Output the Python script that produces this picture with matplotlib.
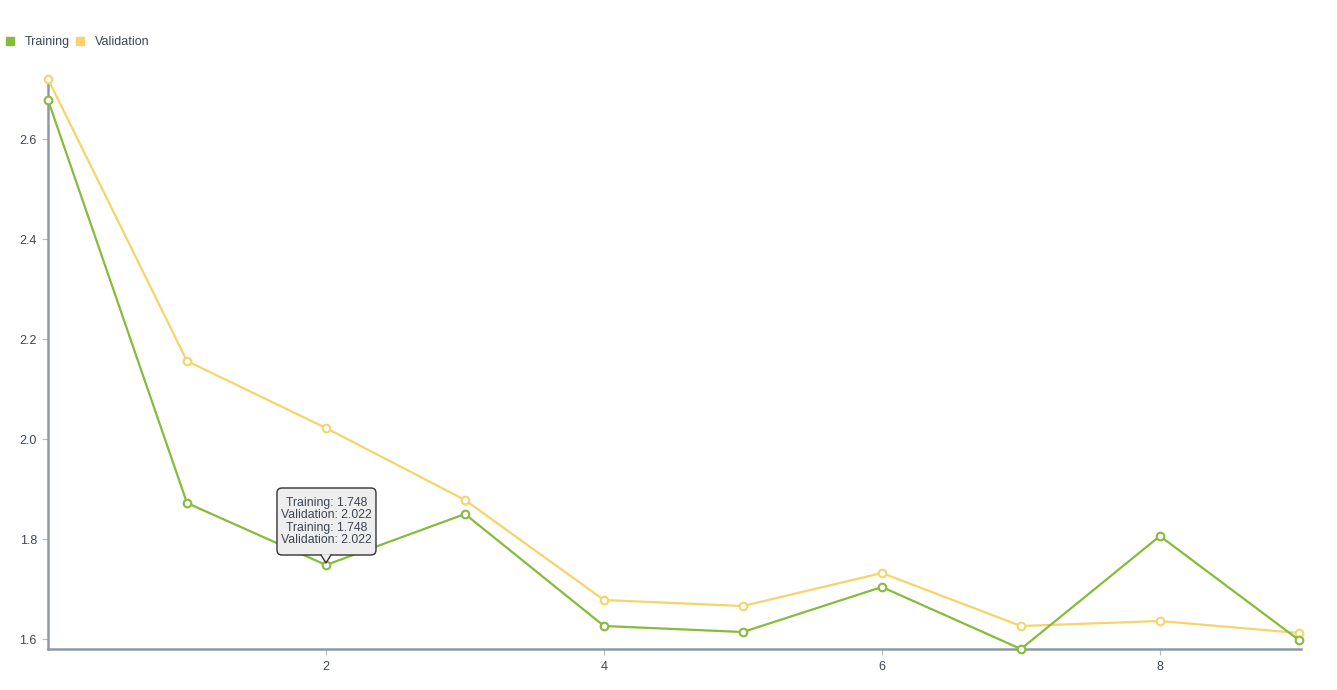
import matplotlib
matplotlib.use("Agg")
import matplotlib.pyplot as plt
from matplotlib.patches import FancyBboxPatch, Polygon
from matplotlib.lines import Line2D

plt.rcParams["font.family"] = ["Liberation Sans", "DejaVu Sans"]

epochs = [0, 1, 2, 3, 4, 5, 6, 7, 8, 9]
training = [2.678, 1.872, 1.748, 1.850, 1.626, 1.614, 1.704, 1.580, 1.806, 1.598]
validation = [2.720, 2.156, 2.022, 1.878, 1.678, 1.666, 1.732, 1.626, 1.636, 1.612]
series_names = ["Training", "Validation"]
xticks = [2, 4, 6, 8]
yticks = [1.6, 1.8, 2.0, 2.2, 2.4, 2.6]
tooltip_index = 2

green = "#86bb3c"
yellow = "#f6d46a"
axis_col = "#8e99a4"
text_col = "#3d4652"

fig = plt.figure(figsize=(13.37, 6.90), dpi=100)
W, H = 1337, 690
ax = fig.add_axes([48 / W, (690 - 649) / H, (1301 - 48) / W, (649 - 79) / H])

ax.plot(epochs, validation, color=yellow, lw=1.6, marker="o", ms=5.5,
        mfc="white", mec=yellow, mew=1.5, zorder=3, clip_on=False)
ax.plot(epochs, training, color=green, lw=1.6, marker="o", ms=5.5,
        mfc="white", mec=green, mew=1.5, zorder=4, clip_on=False)

ax.set_xlim(0, 9.015)
ax.set_ylim(1.58, 2.72)
for s in ["top", "right"]:
    ax.spines[s].set_visible(False)
for s in ["left", "bottom"]:
    ax.spines[s].set_color(axis_col)
    ax.spines[s].set_linewidth(1.8)
ax.set_xticks(xticks)
ax.set_xticklabels([str(t) for t in xticks])
ax.set_yticks(yticks)
ax.set_yticklabels([f"{t:.1f}" for t in yticks])
ax.tick_params(axis="both", colors="#b5bcc4", labelcolor=text_col, labelsize=9,
               length=4, width=0.8)
ax.tick_params(axis="x", pad=5)
ax.tick_params(axis="y", pad=4)

# legend
handles = [Line2D([], [], ls="none", marker="s", ms=6, mfc=c, mec=c) for c in (green, yellow)]
fig.legend(handles, series_names, loc="upper left", bbox_to_anchor=(5 / W, 1 - 36 / H),
           ncol=2, frameon=False, fontsize=9, handletextpad=0.8, columnspacing=0.35,
           handlelength=0.8, labelcolor=text_col, borderaxespad=0, borderpad=0)

# tooltip
tx = epochs[tooltip_index]
ty = training[tooltip_index]
xd, yd = ax.transData.transform((tx, ty))
bw, bh = 99, 67
bx0 = xd - bw / 2 + 0.5
by0 = yd + 10
box = FancyBboxPatch((bx0, by0), bw, bh, boxstyle="round,pad=0,rounding_size=5",
                     transform=None, fc="#eeeeee", ec="#333333", lw=1.0, zorder=10)
fig.patches.append(box)
tri = Polygon([(xd - 5, by0 + 0.8), (xd + 5, by0 + 0.8), (xd, by0 - 8)], closed=True,
              transform=None, fc="#eeeeee", ec="none", zorder=11)
fig.patches.append(tri)
fig.lines.append(Line2D([xd - 5, xd, xd + 5], [by0, by0 - 8, by0], transform=None,
                        color="#333333", lw=1.0, zorder=12))
tip = (f"{series_names[0]}: {training[tooltip_index]:.3f}\n"
       f"{series_names[1]}: {validation[tooltip_index]:.3f}\n"
       f"{series_names[0]}: {training[tooltip_index]:.3f}\n"
       f"{series_names[1]}: {validation[tooltip_index]:.3f}")
fig.text((bx0 + bw / 2) / W, (by0 + bh / 2) / H, tip, ha="center", va="center",
         fontsize=8.8, color=text_col, linespacing=1.02, zorder=13)

fig.savefig("out.png", dpi=100, facecolor="white")
